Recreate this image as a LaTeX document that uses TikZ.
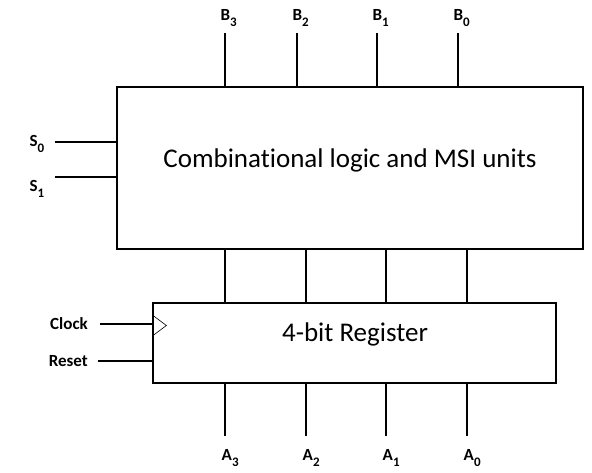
\documentclass[tikz,border=0pt]{standalone}
\usepackage{fontspec}
\setmainfont[Ligatures=NoCommon]{Carlito}
\newcommand{\pinsub}[1]{\raisebox{-6pt}{\fontsize{13}{13}\selectfont #1}}
\begin{document}
\begin{tikzpicture}[x=1pt,y=-1pt,
	block/.style={draw, line width=1.3pt, inner sep=0pt},
	wire/.style={line width=2pt},
	pinlabel/.style={font=\bfseries\fontsize{17}{19}\selectfont, inner sep=0pt},
	blocktext/.style={font=\fontsize{27}{31}\selectfont}]
	\useasboundingbox (0,0) rectangle (592,473);

	% the two blocks
	\node[block, minimum width=466pt, minimum height=162pt] (comb) at (350,168) {};
	\node[blocktext] (combtext) at (350,160) {Combinational logic and MSI units};
	\node[block, minimum width=403pt, minimum height=80pt] (reg) at (354.5,343) {};
	\node[blocktext] (regtext) at (355,334) {4-bit Register};

	% clock mark
	\draw[line width=0.6pt] ([yshift=28pt]reg.west) -- ([xshift=14pt,yshift=17.5pt]reg.west) -- ([yshift=7pt]reg.west);

	% B inputs
	\foreach \x/\n in {225/3, 297/2, 377/1, 458/0}{
		\coordinate (b\n) at (\x,33);
		\draw[wire] (b\n) -- (b\n |- comb.north);
		\node[pinlabel, anchor=base west] (lb\n) at (\x-4.5,21) {B\pinsub{\n}};
	}

	% between the blocks
	\foreach \x/\n in {225/3, 306/2, 386/1, 467/0}{
		\coordinate (m\n) at (\x,0);
		\draw[wire] (m\n |- comb.south) -- (m\n |- reg.north);
	}

	% A outputs
	\foreach \x/\n in {225/3, 306/2, 386/1, 467/0}{
		\coordinate (a\n) at (\x,436);
		\draw[wire] (a\n |- reg.south) -- (a\n);
		\node[pinlabel, anchor=base west] (la\n) at (\x-3.5,460) {A\pinsub{\n}};
	}

	% select lines
	\foreach \y/\ly/\n in {142/147/0, 177/192/1}{
		\coordinate (s\n) at (55,\y);
		\draw[wire] (s\n) -- (s\n -| comb.west);
		\node[pinlabel, anchor=base west] (ls\n) at (29.5,\ly) {S\pinsub{\n}};
	}

	% clock and reset
	\coordinate (clk) at (100,324);
	\draw[wire] (clk) -- (clk -| reg.west);
	\node[pinlabel, anchor=base east] (lclk) at (88,329) {Clock};
	\coordinate (rst) at (98,361);
	\draw[wire] (rst) -- (rst -| reg.west);
	\node[pinlabel, anchor=base east] (lrst) at (88,366) {Reset};
\end{tikzpicture}
\end{document}
